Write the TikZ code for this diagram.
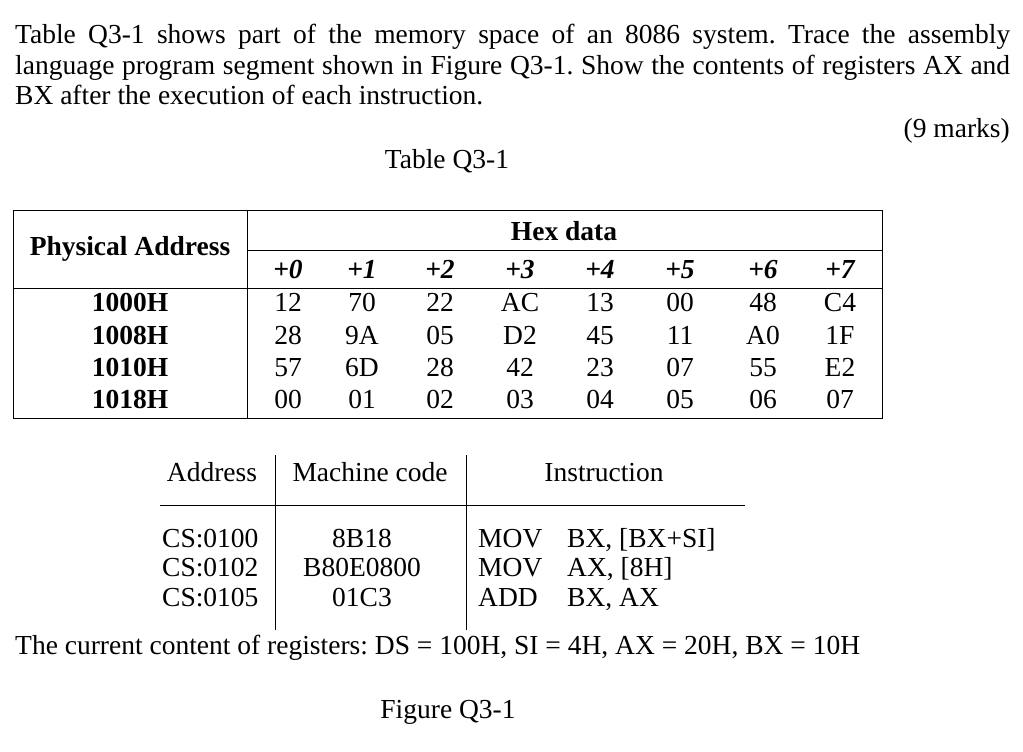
\documentclass[tikz,border=0pt]{standalone}
\usepackage{fontspec}
\setmainfont{Liberation Serif}
\frenchspacing
\begin{document}
\begin{tikzpicture}[x=1pt,y=-1pt,
  txt/.style={font=\fontsize{27.5}{32}\selectfont,inner sep=0pt,text height=19pt,text depth=6pt},
  hd/.style={txt,font=\fontsize{27.5}{32}\selectfont\bfseries},
  hi/.style={txt,font=\fontsize{27.5}{32}\selectfont\bfseries\itshape},
  ln/.style={line width=1pt}]
\useasboundingbox (0,0) rectangle (1023,752);
\node[txt,anchor=west] (p1) at (15,37) {\makebox[995pt][s]{Table Q3-1 shows part of the memory space of an 8086 system. Trace the assembly}};
\node[txt,anchor=west] (p2) at (15,68) {\makebox[995pt][s]{language program segment shown in Figure Q3-1. Show the contents of registers AX and}};
\node[txt,anchor=west] (p3) at (15,98) {BX after the execution of each instruction.};
\node[txt,anchor=east] (mk) at (1010,131) {(9 marks)};
\node[txt] (tt) at (447,162) {Table Q3-1};
% table
\draw[ln] (13,210) rectangle (882,418);
\draw[ln] (247,210) -- (247,418);
\draw[ln] (247,250) -- (882,250);
\draw[ln] (13,288) -- (882,288);
\node[hd] (pa) at (130,249) {Physical Address};
\node[hd] (hx) at (564,234) {Hex data};
\foreach \l [count=\i] in {+0,+1,+2,+3,+4,+5,+6,+7}{
  \pgfmathsetmacro\xx{{0,288,362,440,520,600,680,763,840}[\i]}
  \node[hi] (h\i) at (\xx,272) {\l};
}
\foreach \a/\y in {1000H/305,1008H/338,1010H/370,1018H/402}
  \node[hd] (a\y) at (130,\y) {\a};
\foreach \y/\r in {305/{12,70,22,AC,13,00,48,C4},338/{28,9A,05,D2,45,11,A0,1F},370/{57,6D,28,42,23,07,55,E2},402/{00,01,02,03,04,05,06,07}}{
  \foreach \v [count=\i] in \r {
    \pgfmathsetmacro\xx{{0,288,362,440,520,600,680,763,840}[\i]}
    \node[txt] (d\y-\i) at (\xx,\y) {\v};
  }
}
% program table
\draw[ln] (275,455) -- (275,630);
\draw[ln] (466,455) -- (466,630);
\draw[line width=0.6pt] (160,505) -- (745,505);
\node[txt] (c1) at (212,475) {Address};
\node[txt] (c2) at (370,475) {Machine code};
\node[txt] (c3) at (604,475) {Instruction};
\foreach \y/\a/\m/\o/\p in {541/CS:0100/8B18/MOV/{BX, [BX+SI]},570/CS:0102/B80E0800/MOV/{AX, [8H]},600/CS:0105/01C3/ADD/{BX, AX}}{
  \node[txt,anchor=west] (ra\y) at (162,\y) {\a};
  \node[txt] (rm\y) at (362,\y) {\m};
  \node[txt,anchor=west] (ro\y) at (478,\y) {\o};
  \node[txt,anchor=west] (rp\y) at (567,\y) {\p};
}
\node[txt,anchor=west] (cur) at (15,648) {The current content of registers: DS = 100H, SI = 4H, AX = 20H, BX = 10H};
\node[txt] (fig) at (448,712) {Figure Q3-1};
\end{tikzpicture}
\end{document}
